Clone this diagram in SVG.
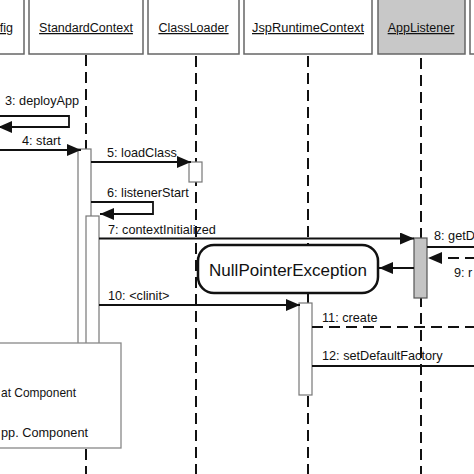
<svg xmlns="http://www.w3.org/2000/svg" width="474" height="474" viewBox="0 0 474 474">
<defs>
<style>
.hdr{fill:#fff;stroke:#666;stroke-width:1.5}
.hdrt{font-family:"Liberation Sans",Arial,sans-serif;font-size:12.5px;fill:#111;text-anchor:middle;text-decoration:underline}
.life{stroke:#111;stroke-width:2;stroke-dasharray:11 6;fill:none}
.act{fill:#fff;stroke:#777;stroke-width:1.2}
.msg{stroke:#111;stroke-width:1.8;fill:none}
.ret{stroke:#111;stroke-width:1.8;fill:none;stroke-dasharray:11 6}
.lbl{font-family:"Liberation Sans",Arial,sans-serif;font-size:12.7px;fill:#111}
</style>
<marker id="ah" viewBox="0 0 14 12" refX="14" refY="6" markerWidth="14" markerHeight="12" markerUnits="userSpaceOnUse" orient="auto">
<path d="M0,0 L14,6 L0,12 Z" fill="#111"/>
</marker>
</defs>
<rect width="474" height="474" fill="#fff"/>

<g id="lifelines">
<line class="life" x1="86" y1="55" x2="86" y2="149"/>
<line class="life" x1="86" y1="449" x2="86" y2="474"/>
<line class="life" x1="196" y1="56" x2="196" y2="474"/>
<line class="life" x1="308" y1="56" x2="308" y2="474"/>
<line class="life" x1="421" y1="58" x2="421" y2="474"/>
</g>

<g id="node-config">
<rect class="hdr" x="-20" y="-10" width="44" height="64"/>
<text class="hdrt" x="13" y="32" style="text-anchor:end">fig</text>
</g>
<g id="node-standardcontext">
<rect class="hdr" x="29" y="-10" width="114" height="64"/>
<text class="hdrt" x="86" y="32">StandardContext</text>
</g>
<g id="node-classloader">
<rect class="hdr" x="148" y="-10" width="91" height="64"/>
<text class="hdrt" x="193.5" y="32">ClassLoader</text>
</g>
<g id="node-jspruntimecontext">
<rect class="hdr" x="244" y="-10" width="128" height="64"/>
<text class="hdrt" x="308" y="32" textLength="112" lengthAdjust="spacingAndGlyphs">JspRuntimeContext</text>
</g>
<g id="node-applistener">
<rect class="hdr" x="378" y="-10" width="87" height="64" style="fill:#c8c8c8"/>
<text class="hdrt" x="421" y="32">AppListener</text>
</g>
<g id="node-next">
<rect class="hdr" x="470" y="-10" width="30" height="64"/>
</g>

<g id="activations">
<rect class="act" x="78" y="149" width="13" height="200"/>
<rect class="act" x="86" y="216" width="13" height="133"/>
<rect class="act" x="189" y="162" width="13" height="20"/>
<rect class="act" x="414" y="238" width="13" height="60" style="fill:#c4c4c4;stroke:#555"/>
<rect class="act" x="299" y="303" width="13" height="92"/>
</g>

<g id="exception">
<rect x="198" y="245" width="180" height="48" rx="16" ry="16" fill="#fff" stroke="#111" stroke-width="2.5"/>
<text x="288" y="276" text-anchor="middle" style="font-family:'Liberation Sans',Arial,sans-serif;font-size:17px;fill:#111">NullPointerException</text>
</g>

<g id="connectors">
<polyline class="msg" points="-2,116 69,116 69,127 -2,127" marker-end="url(#ah)"/>
<text class="lbl" x="5" y="105">3: deployApp</text>
<line class="msg" x1="-2" y1="150" x2="81" y2="150" marker-end="url(#ah)"/>
<text class="lbl" x="22" y="145">4: start</text>
<line class="msg" x1="91" y1="162" x2="191" y2="162" marker-end="url(#ah)"/>
<text class="lbl" x="107" y="157">5: loadClass</text>
<polyline class="msg" points="91,202 153,202 153,214 100,214" marker-end="url(#ah)"/>
<text class="lbl" x="107" y="197">6: listenerStart</text>
<line class="msg" x1="99" y1="238.5" x2="414" y2="238.5" marker-end="url(#ah)"/>
<text class="lbl" x="108" y="234">7: contextInitialized</text>
<line class="msg" x1="427" y1="247" x2="476" y2="247"/>
<text class="lbl" x="434" y="240">8: getD</text>
<line class="ret" x1="476" y1="258" x2="428" y2="258" marker-end="url(#ah)"/>
<text class="lbl" x="454" y="277">9: r</text>
<line class="msg" x1="414" y1="268" x2="379" y2="268" marker-end="url(#ah)"/>
<line class="msg" x1="99" y1="305" x2="300" y2="305" marker-end="url(#ah)"/>
<text class="lbl" x="108" y="300">10: &lt;clinit&gt;</text>
<line class="ret" x1="312" y1="327" x2="476" y2="327"/>
<text class="lbl" x="322" y="322">11: create</text>
<line class="msg" x1="312" y1="366" x2="476" y2="366"/>
<text class="lbl" x="322" y="360">12: setDefaultFactory</text>
</g>

<g id="note">
<rect x="-2" y="343" width="123" height="105" fill="#fff" stroke="#888" stroke-width="1.3"/>
<text class="lbl" x="1" y="397" textLength="75" lengthAdjust="spacingAndGlyphs">at Component</text>
<text class="lbl" x="1" y="437" textLength="87" lengthAdjust="spacingAndGlyphs">pp. Component</text>
</g>
</svg>
